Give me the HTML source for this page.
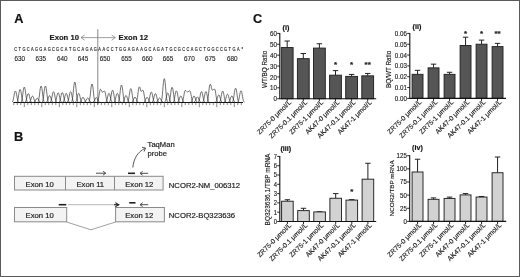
<!DOCTYPE html>
<html lang="en"><head><meta charset="utf-8"><title>Figure</title>
<style>html,body{margin:0;padding:0;background:#fff}body{width:520px;height:277px;overflow:hidden}svg{display:block}svg text{font-family:"Liberation Sans",Arial,Helvetica,sans-serif}</style>
</head><body>
<svg width="520" height="277" viewBox="0 0 520 277" font-family="Liberation Sans, Arial, Helvetica, sans-serif">
<rect x="0" y="0" width="520" height="277" fill="#ffffff"/>
<rect x="0.5" y="0.5" width="519" height="276" fill="none" stroke="#5a5a5a" stroke-width="1"/>
<text x="14.2" y="23.2" font-size="12.7" font-weight="bold" text-anchor="start" fill="#111"  stroke="#111" stroke-width="0.18">A</text>
<text x="49.5" y="40.3" font-size="7.7" font-weight="bold" text-anchor="start" fill="#1a1a1a"  stroke="#1a1a1a" stroke-width="0.18">Exon 10</text>
<text x="118.6" y="40.3" font-size="7.7" font-weight="bold" text-anchor="start" fill="#1a1a1a"  stroke="#1a1a1a" stroke-width="0.18">Exon 12</text>
<g stroke="#777" stroke-width="0.7" fill="none">
<path d="M81 37.6H115.3"/>
<path d="M84.6 35L81 37.6L84.6 40.2"/>
<path d="M111.7 35L115.3 37.6L111.7 40.2"/>
</g>
<path d="M97.8 29.2V104.5" stroke="#888" stroke-width="1" fill="none"/>
<text transform="scale(0.8 1)" x="19.50 24.75 30.00 35.25 40.50 45.75 51.00 56.25 61.50 66.75 72.00 77.25 82.50 87.75 93.00 98.25 103.50 108.75 114.00 119.25 124.50 129.75 135.00 140.25 145.50 150.75 156.00 161.25 166.50 171.75 177.00 182.25 187.50 192.75 198.00 203.25 208.50 213.75 219.00 224.25 229.50 234.75 240.00 245.25 250.50 255.75 261.00 266.25 271.50 276.75 282.00 287.25 292.50 297.75 303.00" y="51.3" font-size="4.9" text-anchor="middle" fill="#222" stroke="#222" stroke-width="0.15">CTGCAGGAGCGCATGCAGAGAACCTGGAGAAGCAGATGCGCCAGCTGGCCGTGA*</text>
<text x="19.8" y="60.9" font-size="7.3" font-weight="normal" text-anchor="middle" fill="#1a1a1a" textLength="10.6" lengthAdjust="spacingAndGlyphs" stroke="#1a1a1a" stroke-width="0.12">630</text>
<text x="40.7" y="60.9" font-size="7.3" font-weight="normal" text-anchor="middle" fill="#1a1a1a" textLength="10.6" lengthAdjust="spacingAndGlyphs" stroke="#1a1a1a" stroke-width="0.12">635</text>
<text x="62.3" y="60.9" font-size="7.3" font-weight="normal" text-anchor="middle" fill="#1a1a1a" textLength="10.6" lengthAdjust="spacingAndGlyphs" stroke="#1a1a1a" stroke-width="0.12">640</text>
<text x="83.1" y="60.9" font-size="7.3" font-weight="normal" text-anchor="middle" fill="#1a1a1a" textLength="10.6" lengthAdjust="spacingAndGlyphs" stroke="#1a1a1a" stroke-width="0.12">645</text>
<text x="105.0" y="60.9" font-size="7.3" font-weight="normal" text-anchor="middle" fill="#1a1a1a" textLength="10.6" lengthAdjust="spacingAndGlyphs" stroke="#1a1a1a" stroke-width="0.12">650</text>
<text x="126.5" y="60.9" font-size="7.3" font-weight="normal" text-anchor="middle" fill="#1a1a1a" textLength="10.6" lengthAdjust="spacingAndGlyphs" stroke="#1a1a1a" stroke-width="0.12">655</text>
<text x="147.2" y="60.9" font-size="7.3" font-weight="normal" text-anchor="middle" fill="#1a1a1a" textLength="10.6" lengthAdjust="spacingAndGlyphs" stroke="#1a1a1a" stroke-width="0.12">660</text>
<text x="168.0" y="60.9" font-size="7.3" font-weight="normal" text-anchor="middle" fill="#1a1a1a" textLength="10.6" lengthAdjust="spacingAndGlyphs" stroke="#1a1a1a" stroke-width="0.12">665</text>
<text x="189.4" y="60.9" font-size="7.3" font-weight="normal" text-anchor="middle" fill="#1a1a1a" textLength="10.6" lengthAdjust="spacingAndGlyphs" stroke="#1a1a1a" stroke-width="0.12">670</text>
<text x="210.3" y="60.9" font-size="7.3" font-weight="normal" text-anchor="middle" fill="#1a1a1a" textLength="10.6" lengthAdjust="spacingAndGlyphs" stroke="#1a1a1a" stroke-width="0.12">675</text>
<text x="232.2" y="60.9" font-size="7.3" font-weight="normal" text-anchor="middle" fill="#1a1a1a" textLength="10.6" lengthAdjust="spacingAndGlyphs" stroke="#1a1a1a" stroke-width="0.12">680</text>
<g stroke="#333" stroke-width="0.7" fill="none" stroke-linejoin="round">
<path d="M12.00 102.2C13.70 102.2 14.11 91.00 15.40 91.00C16.69 91.00 17.10 102.2 18.80 102.2"/>
<path d="M16.70 102.2C18.40 102.2 18.81 89.40 20.10 89.40C21.39 89.40 21.80 102.2 23.50 102.2"/>
<path d="M20.90 102.2C22.60 102.2 23.01 87.10 24.30 87.10C25.59 87.10 26.00 102.2 27.70 102.2"/>
<path d="M24.90 102.2C26.60 102.2 27.01 93.60 28.30 93.60C29.59 93.60 30.00 102.2 31.70 102.2"/>
<path d="M29.10 102.2C30.80 102.2 31.21 96.10 32.50 96.10C33.79 96.10 34.20 102.2 35.90 102.2"/>
<path d="M33.80 102.2C35.50 102.2 35.91 98.20 37.20 98.20C38.49 98.20 38.90 102.2 40.60 102.2"/>
<path d="M37.70 102.2C39.40 102.2 39.81 86.00 41.10 86.00C42.39 86.00 42.80 102.2 44.50 102.2"/>
<path d="M42.00 102.2C43.70 102.2 44.11 86.00 45.40 86.00C46.69 86.00 47.10 102.2 48.80 102.2"/>
<path d="M46.20 102.2C47.90 102.2 48.31 95.60 49.60 95.60C50.89 95.60 51.30 102.2 53.00 102.2"/>
<path d="M50.10 102.2C51.80 102.2 52.21 91.70 53.50 91.70C54.79 91.70 55.20 102.2 56.90 102.2"/>
<path d="M54.80 102.2C56.50 102.2 56.91 92.80 58.20 92.80C59.49 92.80 59.90 102.2 61.60 102.2"/>
<path d="M58.90 102.2C60.60 102.2 61.01 92.50 62.30 92.50C63.59 92.50 64.00 102.2 65.70 102.2"/>
<path d="M62.80 102.2C64.50 102.2 64.91 93.30 66.20 93.30C67.49 93.30 67.90 102.2 69.60 102.2"/>
<path d="M67.20 102.2C68.90 102.2 69.31 91.70 70.60 91.70C71.89 91.70 72.30 102.2 74.00 102.2"/>
<path d="M71.40 102.2C73.10 102.2 73.51 82.10 74.80 82.10C76.09 82.10 76.50 102.2 78.20 102.2"/>
<path d="M75.30 102.2C77.00 102.2 77.41 93.30 78.70 93.30C79.99 93.30 80.40 102.2 82.10 102.2"/>
<path d="M79.60 102.2C81.30 102.2 81.71 97.20 83.00 97.20C84.29 97.20 84.70 102.2 86.40 102.2"/>
<path d="M84.30 102.2C86.00 102.2 86.41 98.00 87.70 98.00C88.99 98.00 89.40 102.2 91.10 102.2"/>
<path d="M88.60 102.2C90.30 102.2 90.71 84.00 92.00 84.00C93.29 84.00 93.70 102.2 95.40 102.2"/>
<path d="M92.90 102.2C94.60 102.2 95.01 97.50 96.30 97.50C97.59 97.50 98.00 102.2 99.70 102.2"/>
<path d="M97.10 102.2C98.80 102.2 99.21 89.40 100.50 89.40C101.50 89.40 101.65 92.20 102.45 92.20C103.25 92.20 103.40 91.00 104.40 91.00C105.69 91.00 106.10 102.2 107.80 102.2"/>
<path d="M105.60 102.2C107.30 102.2 107.71 93.30 109.00 93.30C110.29 93.30 110.70 102.2 112.40 102.2"/>
<path d="M109.20 102.2C110.90 102.2 111.31 90.20 112.60 90.20C113.89 90.20 114.30 102.2 116.00 102.2"/>
<path d="M113.90 102.2C115.60 102.2 116.01 93.30 117.30 93.30C118.59 93.30 119.00 102.2 120.70 102.2"/>
<path d="M118.10 102.2C119.80 102.2 120.21 85.00 121.50 85.00C122.79 85.00 123.20 102.2 124.90 102.2"/>
<path d="M122.60 102.2C124.30 102.2 124.71 95.50 126.00 95.50C127.29 95.50 127.70 102.2 129.40 102.2"/>
<path d="M127.40 102.2C129.10 102.2 129.51 88.60 130.80 88.60C132.09 88.60 132.50 102.2 134.20 102.2"/>
<path d="M131.60 102.2C133.30 102.2 133.71 97.00 135.00 97.00C136.29 97.00 136.70 102.2 138.40 102.2"/>
<path d="M136.00 102.2C137.70 102.2 138.11 86.80 139.40 86.80C140.40 86.80 140.30 91.40 141.10 91.40C141.90 91.40 141.80 90.20 142.80 90.20C144.09 90.20 144.50 102.2 146.20 102.2"/>
<path d="M143.70 102.2C145.40 102.2 145.81 97.20 147.10 97.20C148.39 97.20 148.80 102.2 150.50 102.2"/>
<path d="M147.90 102.2C149.60 102.2 150.01 92.00 151.30 92.00C152.59 92.00 153.00 102.2 154.70 102.2"/>
<path d="M152.00 102.2C153.70 102.2 154.11 93.60 155.40 93.60C156.69 93.60 157.10 102.2 158.80 102.2"/>
<path d="M156.20 102.2C157.90 102.2 158.31 98.00 159.60 98.00C160.89 98.00 161.30 102.2 163.00 102.2"/>
<path d="M160.90 102.2C162.60 102.2 163.01 78.70 164.30 78.70C165.59 78.70 166.00 102.2 167.70 102.2"/>
<path d="M164.40 102.2C166.10 102.2 166.51 93.00 167.80 93.00C169.09 93.00 169.50 102.2 171.20 102.2"/>
<path d="M168.70 102.2C170.40 102.2 170.81 87.30 172.10 87.30C173.39 87.30 173.80 102.2 175.50 102.2"/>
<path d="M173.00 102.2C174.70 102.2 175.11 90.80 176.40 90.80C177.69 90.80 178.10 102.2 179.80 102.2"/>
<path d="M177.40 102.2C179.10 102.2 179.51 96.00 180.80 96.00C182.09 96.00 182.50 102.2 184.20 102.2"/>
<path d="M181.90 102.2C183.60 102.2 184.01 90.40 185.30 90.40C186.30 90.40 186.75 92.00 187.55 92.00C188.35 92.00 188.80 90.80 189.80 90.80C191.09 90.80 191.50 102.2 193.20 102.2"/>
<path d="M190.60 102.2C192.30 102.2 192.71 96.00 194.00 96.00C195.29 96.00 195.70 102.2 197.40 102.2"/>
<path d="M194.00 102.2C195.70 102.2 196.11 96.80 197.40 96.80C198.69 96.80 199.10 102.2 200.80 102.2"/>
<path d="M198.10 102.2C199.80 102.2 200.21 91.60 201.50 91.60C202.79 91.60 203.20 102.2 204.90 102.2"/>
<path d="M202.50 102.2C204.20 102.2 204.61 91.60 205.90 91.60C207.19 91.60 207.60 102.2 209.30 102.2"/>
<path d="M206.80 102.2C208.50 102.2 208.91 84.20 210.20 84.20C211.20 84.20 211.55 90.20 212.35 90.20C213.15 90.20 213.50 89.00 214.50 89.00C215.79 89.00 216.20 102.2 217.90 102.2"/>
<path d="M215.40 102.2C217.10 102.2 217.51 95.00 218.80 95.00C220.09 95.00 220.50 102.2 222.20 102.2"/>
<path d="M219.30 102.2C221.00 102.2 221.41 91.10 222.70 91.10C223.99 91.10 224.40 102.2 226.10 102.2"/>
<path d="M224.10 102.2C225.80 102.2 226.21 94.20 227.50 94.20C228.79 94.20 229.20 102.2 230.90 102.2"/>
<path d="M228.40 102.2C230.10 102.2 230.51 96.00 231.80 96.00C233.09 96.00 233.50 102.2 235.20 102.2"/>
<path d="M232.20 102.2C233.90 102.2 234.31 88.20 235.60 88.20C236.89 88.20 237.30 102.2 239.00 102.2"/>
<path d="M237.60 102.2C239.30 102.2 239.71 90.80 241.00 90.80C242.29 90.80 242.70 102.2 244.40 102.2"/>
</g>
<path d="M13.5 102.5H243" stroke="#111" stroke-width="1.15" fill="none"/>
<g stroke="#333" stroke-width="0.6" fill="none">
<path d="M13.80 102.2V105.10"/>
<path d="M17.30 102.2V105.10"/>
<path d="M20.80 102.2V105.10"/>
<path d="M24.30 102.2V107.10"/>
<path d="M27.80 102.2V105.10"/>
<path d="M31.30 102.2V105.10"/>
<path d="M34.80 102.2V105.10"/>
<path d="M38.30 102.2V105.10"/>
<path d="M41.80 102.2V107.10"/>
<path d="M45.30 102.2V105.10"/>
<path d="M48.80 102.2V105.10"/>
<path d="M52.30 102.2V105.10"/>
<path d="M55.80 102.2V105.10"/>
<path d="M59.30 102.2V107.10"/>
<path d="M62.80 102.2V105.10"/>
<path d="M66.30 102.2V105.10"/>
<path d="M69.80 102.2V105.10"/>
<path d="M73.30 102.2V105.10"/>
<path d="M76.80 102.2V107.10"/>
<path d="M80.30 102.2V105.10"/>
<path d="M83.80 102.2V105.10"/>
<path d="M87.30 102.2V105.10"/>
<path d="M90.80 102.2V105.10"/>
<path d="M94.30 102.2V107.10"/>
<path d="M97.80 102.2V105.10"/>
<path d="M101.30 102.2V105.10"/>
<path d="M104.80 102.2V105.10"/>
<path d="M108.30 102.2V105.10"/>
<path d="M111.80 102.2V107.10"/>
<path d="M115.30 102.2V105.10"/>
<path d="M118.80 102.2V105.10"/>
<path d="M122.30 102.2V105.10"/>
<path d="M125.80 102.2V105.10"/>
<path d="M129.30 102.2V107.10"/>
<path d="M132.80 102.2V105.10"/>
<path d="M136.30 102.2V105.10"/>
<path d="M139.80 102.2V105.10"/>
<path d="M143.30 102.2V105.10"/>
<path d="M146.80 102.2V107.10"/>
<path d="M150.30 102.2V105.10"/>
<path d="M153.80 102.2V105.10"/>
<path d="M157.30 102.2V105.10"/>
<path d="M160.80 102.2V105.10"/>
<path d="M164.30 102.2V107.10"/>
<path d="M167.80 102.2V105.10"/>
<path d="M171.30 102.2V105.10"/>
<path d="M174.80 102.2V105.10"/>
<path d="M178.30 102.2V105.10"/>
<path d="M181.80 102.2V107.10"/>
<path d="M185.30 102.2V105.10"/>
<path d="M188.80 102.2V105.10"/>
<path d="M192.30 102.2V105.10"/>
<path d="M195.80 102.2V105.10"/>
<path d="M199.30 102.2V107.10"/>
<path d="M202.80 102.2V105.10"/>
<path d="M206.30 102.2V105.10"/>
<path d="M209.80 102.2V105.10"/>
<path d="M213.30 102.2V105.10"/>
<path d="M216.80 102.2V107.10"/>
<path d="M220.30 102.2V105.10"/>
<path d="M223.80 102.2V105.10"/>
<path d="M227.30 102.2V105.10"/>
<path d="M230.80 102.2V105.10"/>
<path d="M234.30 102.2V107.10"/>
<path d="M237.80 102.2V105.10"/>
<path d="M241.30 102.2V105.10"/>
</g>
<text x="14" y="140.8" font-size="12.8" font-weight="bold" text-anchor="start" fill="#111"  stroke="#111" stroke-width="0.18">B</text>
<text x="147.6" y="147" font-size="7.6" font-weight="normal" text-anchor="start" fill="#1a1a1a"  stroke="#1a1a1a" stroke-width="0.18">TaqMan</text>
<text x="147.6" y="156.3" font-size="7.6" font-weight="normal" text-anchor="start" fill="#1a1a1a"  stroke="#1a1a1a" stroke-width="0.18">probe</text>
<g stroke="#444" stroke-width="0.9" fill="none">
<path d="M132.8 167.5C133.8 158.5 137.5 152 145.2 148.3"/>
<path d="M142 147.3L145.6 148.1L144 151.6"/>
</g>
<rect x="14.5" y="176.3" width="148.6" height="13.7" fill="#f3f3f3" stroke="#8a8a8a" stroke-width="1"/>
<path d="M65.5 176.3V190M114.5 176.3V190" stroke="#8a8a8a" stroke-width="1"/>
<text x="39.7" y="186.9" font-size="7.7" font-weight="normal" text-anchor="middle" fill="#1a1a1a"  stroke="#1a1a1a" stroke-width="0.18">Exon 10</text>
<text x="90.3" y="186.9" font-size="7.7" font-weight="normal" text-anchor="middle" fill="#1a1a1a"  stroke="#1a1a1a" stroke-width="0.18">Exon 11</text>
<text x="139.3" y="186.9" font-size="7.7" font-weight="normal" text-anchor="middle" fill="#1a1a1a"  stroke="#1a1a1a" stroke-width="0.18">Exon 12</text>
<text x="168.8" y="188.2" font-size="7.7" font-weight="normal" text-anchor="start" fill="#1a1a1a"  stroke="#1a1a1a" stroke-width="0.18">NCOR2-NM_006312</text>
<g stroke="#444" stroke-width="0.95" fill="none"><path d="M96 173.2H105.7"/><path d="M103.10000000000001 171.29999999999998L105.7 173.2L103.10000000000001 175.1"/></g>
<path d="M128 173.3H135" stroke="#222" stroke-width="1.6" fill="none"/>
<g stroke="#444" stroke-width="0.95" fill="none"><path d="M140 173.3H148.2"/><path d="M142.6 171.4L140 173.3L142.6 175.20000000000002"/></g>
<rect x="14.5" y="207.5" width="52.2" height="14.3" fill="#f3f3f3" stroke="#8a8a8a" stroke-width="1"/>
<rect x="115.6" y="207.5" width="48.8" height="14.3" fill="#f3f3f3" stroke="#8a8a8a" stroke-width="1"/>
<text x="39.7" y="217.8" font-size="7.7" font-weight="normal" text-anchor="middle" fill="#1a1a1a"  stroke="#1a1a1a" stroke-width="0.18">Exon 10</text>
<text x="139.3" y="217.8" font-size="7.7" font-weight="normal" text-anchor="middle" fill="#1a1a1a"  stroke="#1a1a1a" stroke-width="0.18">Exon 12</text>
<text x="168.8" y="218.3" font-size="7.7" font-weight="normal" text-anchor="start" fill="#1a1a1a"  stroke="#1a1a1a" stroke-width="0.18">NCOR2-BQ323636</text>
<path d="M66.5 222L91 229.8L115.5 222" stroke="#888" stroke-width="0.8" fill="none"/>
<path d="M58.7 204.7H66.3" stroke="#222" stroke-width="1.6" fill="none"/>
<path d="M68 204.7H116" stroke="#888" stroke-width="0.6" fill="none"/>
<path d="M115.3 202.6L118.8 204.7L115.3 206.8" stroke="#222" stroke-width="1.1" fill="none"/>
<path d="M114 204.7H118.5" stroke="#222" stroke-width="1.1" fill="none"/>
<path d="M129.2 202.8H135.5" stroke="#222" stroke-width="1.6" fill="none"/>
<g stroke="#444" stroke-width="0.95" fill="none"><path d="M140 204.7H148.2"/><path d="M142.6 202.79999999999998L140 204.7L142.6 206.6"/></g>
<text x="253" y="22.7" font-size="12.6" font-weight="bold" text-anchor="start" fill="#111"  stroke="#111" stroke-width="0.18">C</text>
<text x="282.6" y="29.5" font-size="7.2" font-weight="bold" text-anchor="start" fill="#111"  stroke="#111" stroke-width="0.18">(i)</text>
<path d="M287.20 47.55V41.02M284.50 41.02H289.90" stroke="#222" stroke-width="1" fill="none"/>
<rect x="281.30" y="47.55" width="11.8" height="51.15" fill="#555555" stroke="#222" stroke-width="0.95"/>
<path d="M287.20 98.7V101.3" stroke="#111" stroke-width="0.9"/>
<text transform="translate(291.60 102.90) rotate(-45)" font-size="6.8" text-anchor="end" fill="#1a1a1a" stroke="#1a1a1a" stroke-width="0.15">ZR75-0 μmol/L</text>
<path d="M303.30 58.65V53.53M300.60 53.53H306.00" stroke="#222" stroke-width="1" fill="none"/>
<rect x="297.40" y="58.65" width="11.8" height="40.05" fill="#555555" stroke="#222" stroke-width="0.95"/>
<path d="M303.30 98.7V101.3" stroke="#111" stroke-width="0.9"/>
<text transform="translate(307.70 102.90) rotate(-45)" font-size="6.8" text-anchor="end" fill="#1a1a1a" stroke="#1a1a1a" stroke-width="0.15">ZR75-0.1 μmol/L</text>
<path d="M319.40 48.09V43.74M316.70 43.74H322.10" stroke="#222" stroke-width="1" fill="none"/>
<rect x="313.50" y="48.09" width="11.8" height="50.61" fill="#555555" stroke="#222" stroke-width="0.95"/>
<path d="M319.40 98.7V101.3" stroke="#111" stroke-width="0.9"/>
<text transform="translate(323.80 102.90) rotate(-45)" font-size="6.8" text-anchor="end" fill="#1a1a1a" stroke="#1a1a1a" stroke-width="0.15">ZR75-1 μmol/L</text>
<path d="M335.50 75.19V70.62M332.80 70.62H338.20" stroke="#222" stroke-width="1" fill="none"/>
<rect x="329.60" y="75.19" width="11.8" height="23.51" fill="#555555" stroke="#222" stroke-width="0.95"/>
<path d="M335.50 98.7V101.3" stroke="#111" stroke-width="0.9"/>
<text transform="translate(339.90 102.90) rotate(-45)" font-size="6.8" text-anchor="end" fill="#1a1a1a" stroke="#1a1a1a" stroke-width="0.15">AK47-0 μmol/L</text>
<path d="M351.60 76.39V74.43M348.90 74.43H354.30" stroke="#222" stroke-width="1" fill="none"/>
<rect x="345.70" y="76.39" width="11.8" height="22.31" fill="#555555" stroke="#222" stroke-width="0.95"/>
<path d="M351.60 98.7V101.3" stroke="#111" stroke-width="0.9"/>
<text transform="translate(356.00 102.90) rotate(-45)" font-size="6.8" text-anchor="end" fill="#1a1a1a" stroke="#1a1a1a" stroke-width="0.15">AK47-0.1 μmol/L</text>
<path d="M367.70 75.84V73.45M365.00 73.45H370.40" stroke="#222" stroke-width="1" fill="none"/>
<rect x="361.80" y="75.84" width="11.8" height="22.86" fill="#555555" stroke="#222" stroke-width="0.95"/>
<path d="M367.70 98.7V101.3" stroke="#111" stroke-width="0.9"/>
<text transform="translate(372.10 102.90) rotate(-45)" font-size="6.8" text-anchor="end" fill="#1a1a1a" stroke="#1a1a1a" stroke-width="0.15">AK47-1 μmol/L</text>
<path d="M279.8 32.9V98.7H376.2" stroke="#111" stroke-width="1.1" fill="none"/>
<path d="M277.2 98.70H279.8" stroke="#111" stroke-width="0.9"/>
<text x="276.90000000000003" y="101.29" font-size="7.2" font-weight="normal" text-anchor="end" fill="#1a1a1a" textLength="3.45" lengthAdjust="spacingAndGlyphs" stroke="#1a1a1a" stroke-width="0.15">0</text>
<path d="M277.2 87.82H279.8" stroke="#111" stroke-width="0.9"/>
<text x="276.90000000000003" y="90.41" font-size="7.2" font-weight="normal" text-anchor="end" fill="#1a1a1a" textLength="6.9" lengthAdjust="spacingAndGlyphs" stroke="#1a1a1a" stroke-width="0.15">10</text>
<path d="M277.2 76.93H279.8" stroke="#111" stroke-width="0.9"/>
<text x="276.90000000000003" y="79.53" font-size="7.2" font-weight="normal" text-anchor="end" fill="#1a1a1a" textLength="6.9" lengthAdjust="spacingAndGlyphs" stroke="#1a1a1a" stroke-width="0.15">20</text>
<path d="M277.2 66.05H279.8" stroke="#111" stroke-width="0.9"/>
<text x="276.90000000000003" y="68.64" font-size="7.2" font-weight="normal" text-anchor="end" fill="#1a1a1a" textLength="6.9" lengthAdjust="spacingAndGlyphs" stroke="#1a1a1a" stroke-width="0.15">30</text>
<path d="M277.2 55.17H279.8" stroke="#111" stroke-width="0.9"/>
<text x="276.90000000000003" y="57.76" font-size="7.2" font-weight="normal" text-anchor="end" fill="#1a1a1a" textLength="6.9" lengthAdjust="spacingAndGlyphs" stroke="#1a1a1a" stroke-width="0.15">40</text>
<path d="M277.2 44.28H279.8" stroke="#111" stroke-width="0.9"/>
<text x="276.90000000000003" y="46.88" font-size="7.2" font-weight="normal" text-anchor="end" fill="#1a1a1a" textLength="6.9" lengthAdjust="spacingAndGlyphs" stroke="#1a1a1a" stroke-width="0.15">50</text>
<path d="M277.2 33.40H279.8" stroke="#111" stroke-width="0.9"/>
<text x="276.90000000000003" y="35.99" font-size="7.2" font-weight="normal" text-anchor="end" fill="#1a1a1a" textLength="6.9" lengthAdjust="spacingAndGlyphs" stroke="#1a1a1a" stroke-width="0.15">60</text>
<text transform="translate(267 69.4) rotate(-90)" font-size="6.8" text-anchor="middle" textLength="37.4" lengthAdjust="spacingAndGlyphs" fill="#1a1a1a" stroke="#1a1a1a" stroke-width="0.15">WT/BQ Ratio</text>
<text x="335.5" y="66.8" font-size="8" font-weight="bold" text-anchor="middle" fill="#222"  stroke="#222" stroke-width="0.18">*</text>
<text x="351.6" y="66.8" font-size="8" font-weight="bold" text-anchor="middle" fill="#222"  stroke="#222" stroke-width="0.18">*</text>
<text x="367.7" y="66.8" font-size="8" font-weight="bold" text-anchor="middle" fill="#222"  stroke="#222" stroke-width="0.18">**</text>
<text x="412.6" y="29.4" font-size="7.2" font-weight="bold" text-anchor="start" fill="#111"  stroke="#111" stroke-width="0.18">(ii)</text>
<path d="M417.55 74.35V70.34M414.85 70.34H420.25" stroke="#222" stroke-width="1" fill="none"/>
<rect x="412.10" y="74.35" width="10.9" height="24.05" fill="#555555" stroke="#222" stroke-width="0.95"/>
<path d="M417.55 98.4V101.0" stroke="#111" stroke-width="0.9"/>
<text transform="translate(421.95 102.60) rotate(-45)" font-size="6.8" text-anchor="end" fill="#1a1a1a" stroke="#1a1a1a" stroke-width="0.15">ZR75-0 μmol/L</text>
<path d="M433.55 67.85V64.17M430.85 64.17H436.25" stroke="#222" stroke-width="1" fill="none"/>
<rect x="428.10" y="67.85" width="10.9" height="30.55" fill="#555555" stroke="#222" stroke-width="0.95"/>
<path d="M433.55 98.4V101.0" stroke="#111" stroke-width="0.9"/>
<text transform="translate(437.95 102.60) rotate(-45)" font-size="6.8" text-anchor="end" fill="#1a1a1a" stroke="#1a1a1a" stroke-width="0.15">ZR75-0.1 μmol/L</text>
<path d="M449.55 74.35V72.29M446.85 72.29H452.25" stroke="#222" stroke-width="1" fill="none"/>
<rect x="444.10" y="74.35" width="10.9" height="24.05" fill="#555555" stroke="#222" stroke-width="0.95"/>
<path d="M449.55 98.4V101.0" stroke="#111" stroke-width="0.9"/>
<text transform="translate(453.95 102.60) rotate(-45)" font-size="6.8" text-anchor="end" fill="#1a1a1a" stroke="#1a1a1a" stroke-width="0.15">ZR75-1 μmol/L</text>
<path d="M465.55 45.53V37.19M462.85 37.19H468.25" stroke="#222" stroke-width="1" fill="none"/>
<rect x="460.10" y="45.53" width="10.9" height="52.87" fill="#555555" stroke="#222" stroke-width="0.95"/>
<path d="M465.55 98.4V101.0" stroke="#111" stroke-width="0.9"/>
<text transform="translate(469.95 102.60) rotate(-45)" font-size="6.8" text-anchor="end" fill="#1a1a1a" stroke="#1a1a1a" stroke-width="0.15">AK47-0 μmol/L</text>
<path d="M481.55 44.23V40.12M478.85 40.12H484.25" stroke="#222" stroke-width="1" fill="none"/>
<rect x="476.10" y="44.23" width="10.9" height="54.17" fill="#555555" stroke="#222" stroke-width="0.95"/>
<path d="M481.55 98.4V101.0" stroke="#111" stroke-width="0.9"/>
<text transform="translate(485.95 102.60) rotate(-45)" font-size="6.8" text-anchor="end" fill="#1a1a1a" stroke="#1a1a1a" stroke-width="0.15">AK47-0.1 μmol/L</text>
<path d="M497.55 46.62V43.37M494.85 43.37H500.25" stroke="#222" stroke-width="1" fill="none"/>
<rect x="492.10" y="46.62" width="10.9" height="51.78" fill="#555555" stroke="#222" stroke-width="0.95"/>
<path d="M497.55 98.4V101.0" stroke="#111" stroke-width="0.9"/>
<text transform="translate(501.95 102.60) rotate(-45)" font-size="6.8" text-anchor="end" fill="#1a1a1a" stroke="#1a1a1a" stroke-width="0.15">AK47-1 μmol/L</text>
<path d="M409.8 32.9V98.4H506" stroke="#111" stroke-width="1.1" fill="none"/>
<path d="M407.2 98.40H409.8" stroke="#111" stroke-width="0.9"/>
<text x="406.90000000000003" y="100.99" font-size="7.2" font-weight="normal" text-anchor="end" fill="#1a1a1a" textLength="12.08" lengthAdjust="spacingAndGlyphs" stroke="#1a1a1a" stroke-width="0.15">0.00</text>
<path d="M407.2 87.57H409.8" stroke="#111" stroke-width="0.9"/>
<text x="406.90000000000003" y="90.16" font-size="7.2" font-weight="normal" text-anchor="end" fill="#1a1a1a" textLength="12.08" lengthAdjust="spacingAndGlyphs" stroke="#1a1a1a" stroke-width="0.15">0.01</text>
<path d="M407.2 76.73H409.8" stroke="#111" stroke-width="0.9"/>
<text x="406.90000000000003" y="79.33" font-size="7.2" font-weight="normal" text-anchor="end" fill="#1a1a1a" textLength="12.08" lengthAdjust="spacingAndGlyphs" stroke="#1a1a1a" stroke-width="0.15">0.02</text>
<path d="M407.2 65.90H409.8" stroke="#111" stroke-width="0.9"/>
<text x="406.90000000000003" y="68.49" font-size="7.2" font-weight="normal" text-anchor="end" fill="#1a1a1a" textLength="12.08" lengthAdjust="spacingAndGlyphs" stroke="#1a1a1a" stroke-width="0.15">0.03</text>
<path d="M407.2 55.07H409.8" stroke="#111" stroke-width="0.9"/>
<text x="406.90000000000003" y="57.66" font-size="7.2" font-weight="normal" text-anchor="end" fill="#1a1a1a" textLength="12.08" lengthAdjust="spacingAndGlyphs" stroke="#1a1a1a" stroke-width="0.15">0.04</text>
<path d="M407.2 44.23H409.8" stroke="#111" stroke-width="0.9"/>
<text x="406.90000000000003" y="46.83" font-size="7.2" font-weight="normal" text-anchor="end" fill="#1a1a1a" textLength="12.08" lengthAdjust="spacingAndGlyphs" stroke="#1a1a1a" stroke-width="0.15">0.05</text>
<path d="M407.2 33.40H409.8" stroke="#111" stroke-width="0.9"/>
<text x="406.90000000000003" y="35.99" font-size="7.2" font-weight="normal" text-anchor="end" fill="#1a1a1a" textLength="12.08" lengthAdjust="spacingAndGlyphs" stroke="#1a1a1a" stroke-width="0.15">0.06</text>
<text transform="translate(390.5 69.4) rotate(-90)" font-size="6.8" text-anchor="middle" textLength="37.4" lengthAdjust="spacingAndGlyphs" fill="#1a1a1a" stroke="#1a1a1a" stroke-width="0.15">BQ/WT Ratio</text>
<text x="465.55" y="36.3" font-size="8" font-weight="bold" text-anchor="middle" fill="#222"  stroke="#222" stroke-width="0.18">*</text>
<text x="481.55" y="36.3" font-size="8" font-weight="bold" text-anchor="middle" fill="#222"  stroke="#222" stroke-width="0.18">*</text>
<text x="497.55" y="36.3" font-size="8" font-weight="bold" text-anchor="middle" fill="#222"  stroke="#222" stroke-width="0.18">**</text>
<text x="280.4" y="150.7" font-size="7.2" font-weight="bold" text-anchor="start" fill="#111"  stroke="#111" stroke-width="0.18">(iii)</text>
<path d="M287.40 201.23V199.74M284.70 199.74H290.10" stroke="#222" stroke-width="1" fill="none"/>
<rect x="281.60" y="201.23" width="11.6" height="20.27" fill="#d2d2d2" stroke="#222" stroke-width="0.95"/>
<path d="M287.40 221.5V224.1" stroke="#111" stroke-width="0.9"/>
<text transform="translate(291.80 225.70) rotate(-45)" font-size="6.8" text-anchor="end" fill="#1a1a1a" stroke="#1a1a1a" stroke-width="0.15">ZR75-0 μmol/L</text>
<path d="M303.50 210.62V208.29M300.80 208.29H306.20" stroke="#222" stroke-width="1" fill="none"/>
<rect x="297.70" y="210.62" width="11.6" height="10.88" fill="#d2d2d2" stroke="#222" stroke-width="0.95"/>
<path d="M303.50 221.5V224.1" stroke="#111" stroke-width="0.9"/>
<text transform="translate(307.90 225.70) rotate(-45)" font-size="6.8" text-anchor="end" fill="#1a1a1a" stroke="#1a1a1a" stroke-width="0.15">ZR75-0.1 μmol/L</text>
<path d="M319.60 211.92V211.74M316.90 211.74H322.30" stroke="#222" stroke-width="1" fill="none"/>
<rect x="313.80" y="211.92" width="11.6" height="9.58" fill="#d2d2d2" stroke="#222" stroke-width="0.95"/>
<path d="M319.60 221.5V224.1" stroke="#111" stroke-width="0.9"/>
<text transform="translate(324.00 225.70) rotate(-45)" font-size="6.8" text-anchor="end" fill="#1a1a1a" stroke="#1a1a1a" stroke-width="0.15">ZR75-1 μmol/L</text>
<path d="M335.70 198.25V193.60M333.00 193.60H338.40" stroke="#222" stroke-width="1" fill="none"/>
<rect x="329.90" y="198.25" width="11.6" height="23.25" fill="#d2d2d2" stroke="#222" stroke-width="0.95"/>
<path d="M335.70 221.5V224.1" stroke="#111" stroke-width="0.9"/>
<text transform="translate(340.10 225.70) rotate(-45)" font-size="6.8" text-anchor="end" fill="#1a1a1a" stroke="#1a1a1a" stroke-width="0.15">AK47-0 μmol/L</text>
<path d="M351.80 200.11V199.65M349.10 199.65H354.50" stroke="#222" stroke-width="1" fill="none"/>
<rect x="346.00" y="200.11" width="11.6" height="21.39" fill="#d2d2d2" stroke="#222" stroke-width="0.95"/>
<path d="M351.80 221.5V224.1" stroke="#111" stroke-width="0.9"/>
<text transform="translate(356.20 225.70) rotate(-45)" font-size="6.8" text-anchor="end" fill="#1a1a1a" stroke="#1a1a1a" stroke-width="0.15">AK47-0.1 μmol/L</text>
<path d="M367.90 179.19V163.28M365.20 163.28H370.60" stroke="#222" stroke-width="1" fill="none"/>
<rect x="362.10" y="179.19" width="11.6" height="42.31" fill="#d2d2d2" stroke="#222" stroke-width="0.95"/>
<path d="M367.90 221.5V224.1" stroke="#111" stroke-width="0.9"/>
<text transform="translate(372.30 225.70) rotate(-45)" font-size="6.8" text-anchor="end" fill="#1a1a1a" stroke="#1a1a1a" stroke-width="0.15">AK47-1 μmol/L</text>
<path d="M279.8 155.9V221.5H376.2" stroke="#111" stroke-width="1.1" fill="none"/>
<path d="M277.2 221.50H279.8" stroke="#111" stroke-width="0.9"/>
<text x="276.90000000000003" y="223.8" font-size="6.4" font-weight="normal" text-anchor="end" fill="#1a1a1a" textLength="3.2" lengthAdjust="spacingAndGlyphs" stroke="#1a1a1a" stroke-width="0.15">0</text>
<path d="M277.2 212.20H279.8" stroke="#111" stroke-width="0.9"/>
<text x="276.90000000000003" y="214.5" font-size="6.4" font-weight="normal" text-anchor="end" fill="#1a1a1a" textLength="3.2" lengthAdjust="spacingAndGlyphs" stroke="#1a1a1a" stroke-width="0.15">1</text>
<path d="M277.2 202.90H279.8" stroke="#111" stroke-width="0.9"/>
<text x="276.90000000000003" y="205.2" font-size="6.4" font-weight="normal" text-anchor="end" fill="#1a1a1a" textLength="3.2" lengthAdjust="spacingAndGlyphs" stroke="#1a1a1a" stroke-width="0.15">2</text>
<path d="M277.2 193.60H279.8" stroke="#111" stroke-width="0.9"/>
<text x="276.90000000000003" y="195.9" font-size="6.4" font-weight="normal" text-anchor="end" fill="#1a1a1a" textLength="3.2" lengthAdjust="spacingAndGlyphs" stroke="#1a1a1a" stroke-width="0.15">3</text>
<path d="M277.2 184.30H279.8" stroke="#111" stroke-width="0.9"/>
<text x="276.90000000000003" y="186.6" font-size="6.4" font-weight="normal" text-anchor="end" fill="#1a1a1a" textLength="3.2" lengthAdjust="spacingAndGlyphs" stroke="#1a1a1a" stroke-width="0.15">4</text>
<path d="M277.2 175.00H279.8" stroke="#111" stroke-width="0.9"/>
<text x="276.90000000000003" y="177.3" font-size="6.4" font-weight="normal" text-anchor="end" fill="#1a1a1a" textLength="3.2" lengthAdjust="spacingAndGlyphs" stroke="#1a1a1a" stroke-width="0.15">5</text>
<path d="M277.2 165.70H279.8" stroke="#111" stroke-width="0.9"/>
<text x="276.90000000000003" y="168.0" font-size="6.4" font-weight="normal" text-anchor="end" fill="#1a1a1a" textLength="3.2" lengthAdjust="spacingAndGlyphs" stroke="#1a1a1a" stroke-width="0.15">6</text>
<path d="M277.2 156.40H279.8" stroke="#111" stroke-width="0.9"/>
<text x="276.90000000000003" y="158.7" font-size="6.4" font-weight="normal" text-anchor="end" fill="#1a1a1a" textLength="3.2" lengthAdjust="spacingAndGlyphs" stroke="#1a1a1a" stroke-width="0.15">7</text>
<text transform="translate(270 189.5) rotate(-90)" font-size="6.8" text-anchor="middle" textLength="71.8" lengthAdjust="spacingAndGlyphs" fill="#1a1a1a" stroke="#1a1a1a" stroke-width="0.15">BQ323636.1/TBP mRNA</text>
<text x="351.8" y="193.8" font-size="8" font-weight="bold" text-anchor="middle" fill="#222"  stroke="#222" stroke-width="0.18">*</text>
<text x="412.1" y="150.0" font-size="7.2" font-weight="bold" text-anchor="start" fill="#111"  stroke="#111" stroke-width="0.18">(iv)</text>
<path d="M417.55 171.99V159.22M414.85 159.22H420.25" stroke="#222" stroke-width="1" fill="none"/>
<rect x="412.10" y="171.99" width="10.9" height="49.41" fill="#d2d2d2" stroke="#222" stroke-width="0.95"/>
<path d="M417.55 221.4V224.0" stroke="#111" stroke-width="0.9"/>
<text transform="translate(421.95 225.60) rotate(-45)" font-size="6.8" text-anchor="end" fill="#1a1a1a" stroke="#1a1a1a" stroke-width="0.15">ZR75-0 μmol/L</text>
<path d="M433.55 199.32V197.91M430.85 197.91H436.25" stroke="#222" stroke-width="1" fill="none"/>
<rect x="428.10" y="199.32" width="10.9" height="22.08" fill="#d2d2d2" stroke="#222" stroke-width="0.95"/>
<path d="M433.55 221.4V224.0" stroke="#111" stroke-width="0.9"/>
<text transform="translate(437.95 225.60) rotate(-45)" font-size="6.8" text-anchor="end" fill="#1a1a1a" stroke="#1a1a1a" stroke-width="0.15">ZR75-0.1 μmol/L</text>
<path d="M449.55 198.43V197.12M446.85 197.12H452.25" stroke="#222" stroke-width="1" fill="none"/>
<rect x="444.10" y="198.43" width="10.9" height="22.97" fill="#d2d2d2" stroke="#222" stroke-width="0.95"/>
<path d="M449.55 221.4V224.0" stroke="#111" stroke-width="0.9"/>
<text transform="translate(453.95 225.60) rotate(-45)" font-size="6.8" text-anchor="end" fill="#1a1a1a" stroke="#1a1a1a" stroke-width="0.15">ZR75-1 μmol/L</text>
<path d="M465.55 194.91V193.60M462.85 193.60H468.25" stroke="#222" stroke-width="1" fill="none"/>
<rect x="460.10" y="194.91" width="10.9" height="26.49" fill="#d2d2d2" stroke="#222" stroke-width="0.95"/>
<path d="M465.55 221.4V224.0" stroke="#111" stroke-width="0.9"/>
<text transform="translate(469.95 225.60) rotate(-45)" font-size="6.8" text-anchor="end" fill="#1a1a1a" stroke="#1a1a1a" stroke-width="0.15">AK47-0 μmol/L</text>
<path d="M481.55 197.06V196.49M478.85 196.49H484.25" stroke="#222" stroke-width="1" fill="none"/>
<rect x="476.10" y="197.06" width="10.9" height="24.34" fill="#d2d2d2" stroke="#222" stroke-width="0.95"/>
<path d="M481.55 221.4V224.0" stroke="#111" stroke-width="0.9"/>
<text transform="translate(485.95 225.60) rotate(-45)" font-size="6.8" text-anchor="end" fill="#1a1a1a" stroke="#1a1a1a" stroke-width="0.15">AK47-0.1 μmol/L</text>
<path d="M497.55 172.73V157.01M494.85 157.01H500.25" stroke="#222" stroke-width="1" fill="none"/>
<rect x="492.10" y="172.73" width="10.9" height="48.67" fill="#d2d2d2" stroke="#222" stroke-width="0.95"/>
<path d="M497.55 221.4V224.0" stroke="#111" stroke-width="0.9"/>
<text transform="translate(501.95 225.60) rotate(-45)" font-size="6.8" text-anchor="end" fill="#1a1a1a" stroke="#1a1a1a" stroke-width="0.15">AK47-1 μmol/L</text>
<path d="M409.7 155.2V221.4H506.2" stroke="#111" stroke-width="1.1" fill="none"/>
<path d="M407.09999999999997 221.40H409.7" stroke="#111" stroke-width="0.9"/>
<text x="406.8" y="223.78" font-size="6.6" font-weight="normal" text-anchor="end" fill="#1a1a1a" textLength="3.4" lengthAdjust="spacingAndGlyphs" stroke="#1a1a1a" stroke-width="0.15">0</text>
<path d="M407.09999999999997 208.26H409.7" stroke="#111" stroke-width="0.9"/>
<text x="406.8" y="210.64" font-size="6.6" font-weight="normal" text-anchor="end" fill="#1a1a1a" textLength="6.8" lengthAdjust="spacingAndGlyphs" stroke="#1a1a1a" stroke-width="0.15">25</text>
<path d="M407.09999999999997 195.12H409.7" stroke="#111" stroke-width="0.9"/>
<text x="406.8" y="197.5" font-size="6.6" font-weight="normal" text-anchor="end" fill="#1a1a1a" textLength="6.8" lengthAdjust="spacingAndGlyphs" stroke="#1a1a1a" stroke-width="0.15">50</text>
<path d="M407.09999999999997 181.98H409.7" stroke="#111" stroke-width="0.9"/>
<text x="406.8" y="184.36" font-size="6.6" font-weight="normal" text-anchor="end" fill="#1a1a1a" textLength="6.8" lengthAdjust="spacingAndGlyphs" stroke="#1a1a1a" stroke-width="0.15">75</text>
<path d="M407.09999999999997 168.84H409.7" stroke="#111" stroke-width="0.9"/>
<text x="406.8" y="171.22" font-size="6.6" font-weight="normal" text-anchor="end" fill="#1a1a1a" textLength="10.2" lengthAdjust="spacingAndGlyphs" stroke="#1a1a1a" stroke-width="0.15">100</text>
<path d="M407.09999999999997 155.70H409.7" stroke="#111" stroke-width="0.9"/>
<text x="406.8" y="158.08" font-size="6.6" font-weight="normal" text-anchor="end" fill="#1a1a1a" textLength="10.2" lengthAdjust="spacingAndGlyphs" stroke="#1a1a1a" stroke-width="0.15">125</text>
<text transform="translate(393.9 188.3) rotate(-90)" font-size="6.0" text-anchor="middle" textLength="56" lengthAdjust="spacingAndGlyphs" fill="#1a1a1a" stroke="#1a1a1a" stroke-width="0.15">NCOR2/TBP mRNA</text>
</svg>
</body></html>
